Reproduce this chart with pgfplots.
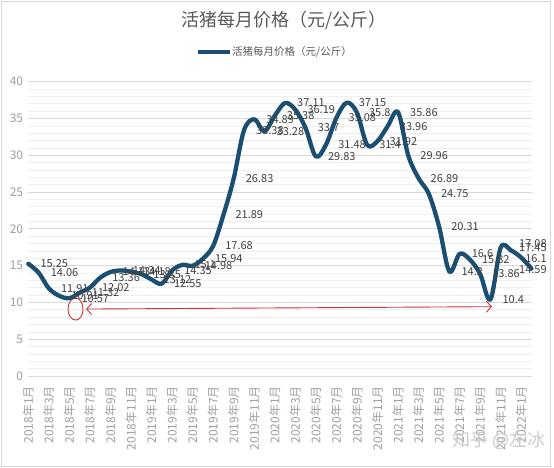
\documentclass[border=0pt]{standalone}
\usepackage{fontspec}
\newfontfamily\cjk{Noto Sans CJK SC}
\usepackage{pgfplots}
\usepackage{pgfplotstable}
\pgfplotsset{compat=1.18}
\usetikzlibrary{arrows.meta}

\definecolor{pigline}{HTML}{1B4F72}
\definecolor{titlegray}{HTML}{595959}
\definecolor{labelgray}{HTML}{404040}
\definecolor{tickgray}{HTML}{A0A0A0}
\definecolor{gridmajor}{HTML}{D9D9D9}
\definecolor{gridminor}{HTML}{EFEFEF}
\definecolor{annored}{HTML}{C8383A}

\pgfplotstableread{
x y label
0 15.25 15.25
1 14.06 14.06
2 11.91 11.91
3 10.91 10.91
4 10.57 10.57
5 11.32 11.32
6 12.02 12.02
7 13.36 13.36
8 14.13 14.13
9 14.34 14.34
10 14.18 14.18
11 13.85 13.85
12 13.12 13.12
13 12.55 12.55
14 14.35 14.35
15 15.10 15.1
16 14.98 14.98
17 15.94 15.94
18 17.68 17.68
19 21.89 21.89
20 26.83 26.83
21 33.38 33.38
22 34.89 34.89
23 33.28 33.28
24 35.38 35.38
25 37.11 37.11
26 36.19 36.19
27 33.70 33.7
28 29.83 29.83
29 31.48 31.48
30 35.08 35.08
31 37.15 37.15
32 35.80 35.8
33 31.40 31.4
34 31.92 31.92
35 33.96 33.96
36 35.86 35.86
37 29.96 29.96
38 26.89 26.89
39 24.75 24.75
40 20.31 20.31
41 14.20 14.2
42 16.60 16.6
43 15.82 15.82
44 13.86 13.86
45 10.40 10.4
46 17.45 17.45
47 17.08 17.08
48 16.10 16.1
49 14.59 14.59
}\pigdata

% labels of the last points, pushed inside the chart area (as in the original)
\pgfplotstableread{
lx ly label
50.5 17.45 17.45
50.5 17.95 17.08
50.5 16.00 16.1
50.5 14.50 14.59
}\lastlabels

\begin{document}
\begin{tikzpicture}[x=1pt,y=1pt]
\path[use as bounding box] (0,0) rectangle (554,468);
\fill[white] (0,0) rectangle (554,468);
\draw[gridmajor, line width=0.8pt] (1.5,2) rectangle (550,466.5);

\begin{axis}[
  at={(28.3pt,92pt)}, anchor=south west,
  scale only axis, width=503.2pt, height=294.3pt,
  xmin=0, xmax=49, ymin=0, ymax=40,
  clip=false,
  axis line style={draw=none},
  major tick style={draw=none}, minor tick style={draw=none},
  xtick={0,2,...,48},
  xticklabels={2018年1月,2018年3月,2018年5月,2018年7月,2018年9月,2018年11月,
    2019年1月,2019年3月,2019年5月,2019年7月,2019年9月,2019年11月,
    2020年1月,2020年3月,2020年5月,2020年7月,2020年9月,2020年11月,
    2021年1月,2021年3月,2021年5月,2021年7月,2021年9月,2021年11月,2022年1月},
  xticklabel style={yshift=-10pt, rotate=90, anchor=east, inner sep=0pt,
    font=\cjk\fontsize{12}{12}\selectfont, text=tickgray},
  ytick={0,5,...,40},
  minor y tick num=4,
  ymajorgrids, yminorgrids,
  major grid style={draw=gridmajor, line width=0.8pt},
  minor grid style={draw=gridminor, line width=0.6pt},
  yticklabel style={anchor=east, inner sep=0pt, xshift=-5pt,
    font=\cjk\fontsize{12}{12}\selectfont, text=tickgray},
  /pgf/number format/assume math mode=true,
]
\addplot[pigline, line width=4.3pt, smooth, tension=0.55, line join=round, line cap=round]
  table[x=x, y=y] {\pigdata};

\addplot[draw=none, nodes near coords, point meta=explicit symbolic,
  skip coords between index={46}{50},
  every node near coord/.style={anchor=west, xshift=12pt, inner sep=0pt,
    font=\cjk\fontsize{11}{11}\selectfont, text=labelgray}]
  table[x=x, y=y, meta=label] {\pigdata};

\addplot[draw=none, nodes near coords, point meta=explicit symbolic,
  every node near coord/.style={anchor=east, inner sep=0pt,
    font=\cjk\fontsize{11}{11}\selectfont, text=labelgray}]
  table[x=lx, y=ly, meta=label] {\lastlabels};

\draw[annored, line width=0.9pt] (axis cs:4.6,9.1) ellipse [x radius=7.5pt, y radius=11pt];
\draw[annored, line width=0.9pt, {Straight Barb[length=5pt,width=11pt]}-{Straight Barb[length=5pt,width=11pt]}]
  (axis cs:5.62,9.1) -- (axis cs:45.15,9.42);
\end{axis}

\node[anchor=west, inner sep=0pt, font=\cjk\fontsize{18}{18}\selectfont, text=titlegray]
  at (181,448) {活猪每月价格（元/公斤）};
\draw[pigline, line width=4pt] (198,416) -- (230,416);
\node[anchor=west, inner sep=0pt, font=\cjk\fontsize{10.5}{10.5}\selectfont, text=titlegray]
  at (232,416) {活猪每月价格（元/公斤）};
\node[anchor=west, inner sep=0pt, font=\cjk\fontsize{18}{18}\selectfont, text=black!20]
  at (452,28) {知乎 @左冰};
\end{tikzpicture}
\end{document}
